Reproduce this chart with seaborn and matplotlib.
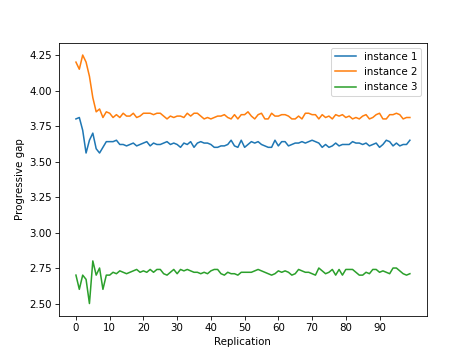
import seaborn as sns
import matplotlib.pyplot as plt
import numpy as np

replication = np.arange(100)

instance_1 = [3.80, 3.81, 3.72, 3.56, 3.65, 3.70, 3.59, 3.56, 3.60, 3.64,
              3.64, 3.64, 3.65, 3.62, 3.62, 3.61, 3.62, 3.63, 3.61, 3.62,
              3.63, 3.64, 3.61, 3.63, 3.62, 3.62, 3.63, 3.64, 3.62, 3.63,
              3.62, 3.60, 3.63, 3.62, 3.64, 3.60, 3.63, 3.64, 3.63, 3.63,
              3.62, 3.60, 3.60, 3.61, 3.61, 3.62, 3.65, 3.61, 3.60, 3.65,
              3.60, 3.62, 3.64, 3.63, 3.64, 3.62, 3.61, 3.60, 3.60, 3.65,
              3.61, 3.64, 3.64, 3.61, 3.62, 3.63, 3.63, 3.64, 3.63, 3.64,
              3.65, 3.64, 3.63, 3.60, 3.62, 3.60, 3.61, 3.63, 3.61, 3.62,
              3.62, 3.62, 3.64, 3.63, 3.63, 3.62, 3.63, 3.61, 3.62, 3.63,
              3.60, 3.62, 3.65, 3.64, 3.61, 3.63, 3.61, 3.62, 3.62, 3.65]

instance_2 = [4.20, 4.15, 4.25, 4.20, 4.10, 3.95, 3.85, 3.87, 3.81, 3.85,
              3.84, 3.81, 3.83, 3.81, 3.84, 3.82, 3.82, 3.84, 3.81, 3.82,
              3.84, 3.84, 3.84, 3.83, 3.84, 3.84, 3.82, 3.80, 3.82, 3.81,
              3.82, 3.82, 3.81, 3.84, 3.82, 3.84, 3.84, 3.82, 3.80, 3.81,
              3.80, 3.81, 3.82, 3.82, 3.83, 3.81, 3.80, 3.83, 3.80, 3.83,
              3.83, 3.85, 3.82, 3.80, 3.83, 3.84, 3.80, 3.80, 3.84, 3.82,
              3.82, 3.83, 3.83, 3.82, 3.80, 3.80, 3.82, 3.80, 3.84, 3.84,
              3.83, 3.83, 3.80, 3.83, 3.81, 3.82, 3.80, 3.83, 3.82, 3.83,
              3.81, 3.82, 3.80, 3.81, 3.80, 3.82, 3.83, 3.80, 3.81, 3.83,
              3.84, 3.80, 3.80, 3.83, 3.83, 3.84, 3.83, 3.80, 3.81, 3.81]

instance_3 = [2.70, 2.60, 2.70, 2.67, 2.50, 2.80, 2.70, 2.75, 2.60, 2.70,
              2.70, 2.72, 2.71, 2.73, 2.72, 2.71, 2.72, 2.73, 2.74, 2.72,
              2.73, 2.72, 2.74, 2.72, 2.74, 2.74, 2.71, 2.70, 2.72, 2.74,
              2.71, 2.74, 2.73, 2.74, 2.73, 2.72, 2.72, 2.71, 2.72, 2.71,
              2.73, 2.74, 2.74, 2.71, 2.70, 2.72, 2.71, 2.71, 2.70, 2.72,
              2.72, 2.72, 2.72, 2.73, 2.74, 2.73, 2.72, 2.71, 2.70, 2.71,
              2.73, 2.72, 2.73, 2.72, 2.70, 2.71, 2.74, 2.73, 2.72, 2.72,
              2.71, 2.70, 2.75, 2.73, 2.71, 2.72, 2.74, 2.70, 2.74, 2.70,
              2.74, 2.74, 2.74, 2.72, 2.70, 2.70, 2.72, 2.71, 2.74, 2.74,
              2.72, 2.73, 2.72, 2.71, 2.75, 2.75, 2.73, 2.71, 2.70, 2.71]

series = {'instance 1': instance_1, 'instance 2': instance_2, 'instance 3': instance_3}

fig, ax = plt.subplots(figsize=(474 / 74, 355 / 74), dpi=74)
for name, vals in series.items():
    sns.lineplot(x=replication, y=vals, label=name, ax=ax)

ax.set_xticks(np.arange(0, 100, 10))
ax.set_yticks([2.50, 2.75, 3.00, 3.25, 3.50, 3.75, 4.00, 4.25])
ax.set_xlabel('Replication')
ax.set_ylabel('Progressive gap')
ax.legend(loc='upper right')

plt.savefig('out.png', dpi=74)
